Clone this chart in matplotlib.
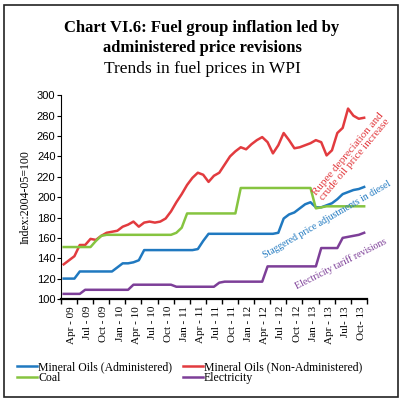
import numpy as np
import matplotlib
matplotlib.use("Agg")
import matplotlib.pyplot as plt
from matplotlib.patches import Rectangle

# =========================================================
# DATA - monthly WPI fuel indices (2004-05=100), Apr-09 to Dec-13
months = np.arange(57)
tick_labels = ['Apr - 09', 'Jul - 09', 'Oct - 09', 'Jan - 10', 'Apr - 10', 'Jul - 10',
               'Oct - 10', 'Jan - 11', 'Apr - 11', 'Jul - 11', 'Oct - 11', 'Jan - 12',
               'Apr - 12', 'Jul - 12', 'Oct - 12', 'Jan - 13', 'Apr - 13', 'Jul- 13', 'Oct- 13']

mineral_admin = [120, 120, 120, 127, 127, 127, 127, 127, 127, 127,
                 131, 135, 135, 136, 138, 148, 148, 148, 148, 148,
                 148, 148, 148, 148, 148, 149, 157, 164, 164, 164,
                 164, 164, 164, 164, 164, 164, 164, 164, 164, 164,
                 165, 179, 183, 185, 189, 193, 195, 190, 190, 192,
                 194, 198, 203, 205, 207, 208, 210]

mineral_nonadmin = [134, 138, 142, 153, 153, 159, 158, 162, 165, 166,
                    167, 171, 173, 176, 171, 175, 176, 175, 176, 179,
                    186, 195, 203, 212, 219, 224, 222, 215, 221, 224,
                    232, 240, 245, 249, 247, 252, 256, 259, 254, 243,
                    251, 263, 256, 248, 249, 251, 253, 256, 254, 241,
                    246, 263, 268, 287, 280, 277, 278]

coal = [151, 151, 151, 151, 151, 151, 157, 162, 163, 163,
        163, 163, 163, 163, 163, 163, 163, 163, 163, 163,
        163, 165, 170, 184, 184, 184, 184, 184, 184, 184,
        184, 184, 184, 209, 209, 209, 209, 209, 209, 209,
        209, 209, 209, 209, 209, 209, 209, 189, 190, 191,
        191, 191, 191, 191, 191, 191, 191]

electricity = [105, 105, 105, 105, 109, 109, 109, 109, 109, 109,
               109, 109, 109, 114, 114, 114, 114, 114, 114, 114,
               114, 112, 112, 112, 112, 112, 112, 112, 112, 116,
               117, 117, 117, 117, 117, 117, 117, 117, 132, 132,
               132, 132, 132, 132, 132, 132, 132, 132, 150, 150,
               150, 150, 160, 161, 162, 163, 165]

# =========================================================
SERIF = 'Liberation Serif'
c_blue = '#2079c0'
c_red = '#e23b3f'
c_green = '#86c440'
c_purple = '#7d3f98'


def main():
    fig = plt.figure(figsize=(4.04, 4.04), dpi=100)
    ax = fig.add_axes([0.151, 0.260, 0.757, 0.504])

    h_admin, = ax.plot(months, mineral_admin, color=c_blue, lw=1.8)
    h_nonadmin, = ax.plot(months, mineral_nonadmin, color=c_red, lw=1.8)
    h_coal, = ax.plot(months, coal, color=c_green, lw=1.8)
    h_elec, = ax.plot(months, electricity, color=c_purple, lw=1.8)

    ax.set_xlim(-0.5, 56.5)
    ax.set_ylim(100, 300)
    ax.set_yticks(np.arange(100, 301, 20))
    ax.tick_params(axis='y', labelsize=8, length=3, width=0.8, pad=1)
    for t in ax.get_yticklabels():
        t.set_fontfamily('Liberation Sans')

    # tick marks at group boundaries, labels in between
    ax.set_xticks(np.arange(-0.5, 57, 3))
    ax.set_xticklabels([])
    ax.tick_params(axis='x', which='major', length=3.5, width=1)
    ax.set_xticks(np.arange(1.5, 57, 3), minor=True)
    ax.set_xticklabels(tick_labels, minor=True, rotation=90, fontsize=8,
                       fontfamily=SERIF)
    ax.tick_params(axis='x', which='minor', length=0, pad=5)

    for s in ['top', 'right']:
        ax.spines[s].set_visible(False)
    ax.spines['left'].set_linewidth(0.8)
    ax.spines['bottom'].set_linewidth(1.6)

    ax.set_ylabel('Index:2004-05=100', fontsize=8.5, fontfamily=SERIF, labelpad=4)

    # annotations
    ax.text(0.95, 0.70, 'Rupee depreciation and\ncrude oil price increase', transform=ax.transAxes,
            rotation=50, color=c_red, fontsize=8, fontfamily=SERIF, ha='center', va='center',
            linespacing=0.95, clip_on=False)
    ax.text(0.87, 0.39, 'Staggered price adjustments in diesel', transform=ax.transAxes,
            rotation=30, color=c_blue, fontsize=7, fontfamily=SERIF, ha='center', va='center',
            clip_on=False)
    ax.text(0.915, 0.175, 'Electricity tariff revisions', transform=ax.transAxes,
            rotation=27, color=c_purple, fontsize=7, fontfamily=SERIF, ha='center', va='center',
            clip_on=False)

    fig.text(0.5, 0.905, 'Chart VI.6: Fuel group inflation led by\nadministered price revisions',
             ha='center', va='center', fontsize=12, fontweight='bold', fontfamily=SERIF,
             linespacing=1.35)
    fig.text(0.5, 0.83, 'Trends in fuel prices in WPI', ha='center', va='center',
             fontsize=12.5, fontfamily=SERIF)

    # legend fills column-wise, so order for two rows
    handles = [h_admin, h_coal, h_nonadmin, h_elec]
    labels = ['Mineral Oils (Administered)', 'Coal',
              'Mineral Oils (Non-Administered)', 'Electricity']
    fig.legend(handles, labels, loc='upper left', bbox_to_anchor=(0.03, 0.118), ncol=2,
               frameon=False, prop={'family': SERIF, 'size': 8.5}, handlelength=1.7,
               handletextpad=0.1, columnspacing=0.9, labelspacing=-0.1, borderaxespad=0)

    fig.patches.append(Rectangle((0.01, 0.017), 0.975, 0.971, transform=fig.transFigure,
                                 fill=False, edgecolor='#222222', lw=1.2))

    fig.savefig('out.png', dpi=100)


if __name__ == "__main__":
    main()
